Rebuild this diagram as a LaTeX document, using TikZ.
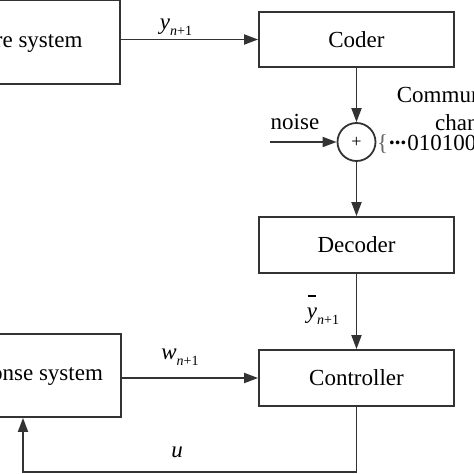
\documentclass[tikz,border=0pt]{standalone}
\usepackage{fontspec}
\setmainfont{Liberation Serif}
\usetikzlibrary{arrows.meta}
\usetikzlibrary{positioning}
\newcommand{\sigidx}[1]{\textit{#1}\raisebox{-0.55ex}{\fontsize{14}{14}\selectfont\textit{n}+1}}
\newcommand{\barsig}{{\ooalign{\textit{y}\cr\hidewidth\raisebox{0.95em}{\rule{0.38em}{1.4pt}}\hidewidth\cr}}\raisebox{-0.55ex}{\fontsize{14}{14}\selectfont\textit{n}+1}}
\newcommand{\bitdots}{{\bfseries\textperiodcentered\kern-2pt\textperiodcentered\kern-2pt\textperiodcentered}}

\begin{document}
\begin{tikzpicture}[x=1pt, y=-1pt,
    every node/.style={font=\fontsize{23}{28}\selectfont, text=black},
    blockbox/.style={draw=black!80, line width=1.8pt, rectangle, inner sep=0pt},
    sigline/.style={draw=black!80, line width=1.8pt, -{Triangle[length=14pt,width=10pt]}}]
    \useasboundingbox (0,0) rectangle (474,474);
    \clip (0,0) rectangle (474,474);
    % Blocks
    \node[blockbox, minimum width=224pt, minimum height=84pt] (meas) at (8,42) {Measure system};
    \node[blockbox, minimum width=195pt, minimum height=55pt] (coder) at (356.5,39.5) {Coder};
    \node[draw=black!80, line width=1.8pt, circle, minimum size=38pt, inner sep=0pt, font=\fontsize{18}{18}\selectfont] (sum) at (356.5,142) {+};
    \node[blockbox, minimum width=195pt, minimum height=56pt] (dec) at (356.5,245) {Decoder};
    \node[blockbox, minimum width=195pt, minimum height=56pt] (ctrl) at (356.5,378) {Controller};
    \node[blockbox, minimum width=194pt, minimum height=83pt] (resp) at (24,375.5) {Response system};
    \coordinate (noisein) at (270,142);
    \coordinate (fb) at (23,472);

    % Connectors
    \draw[sigline] (meas.east |- coder.west) -- (coder.west);
    \draw[sigline] (coder.south) -- (sum.north);
    \draw[sigline] (noisein) -- (sum.west);
    \draw[sigline] (sum.south) -- (dec.north);
    \draw[sigline] (dec.south) -- (ctrl.north);
    \draw[sigline] (resp.east |- ctrl.west) -- (ctrl.west);
    \draw[sigline] (ctrl.south) |- (fb) -- (fb |- resp.south);

    % Labels
    \node (ylbl) at (176,27) {\sigidx{y}};
    \node (wlbl) at (180,357) {\sigidx{w}};
    \node (ybarlbl) at (323,316) {\barsig};
    \node (ulbl) at (177,452) {\textit{u}};
    \node (noiselbl) at (295,122) {noise};
    \node[align=center] (chan) at (471,109) {Communication\\channel};
    \node[anchor=west, inner sep=0pt] (bits) at (377,144) {{\color{black!60}\{}\bitdots010100101\}};
\end{tikzpicture}
\end{document}
